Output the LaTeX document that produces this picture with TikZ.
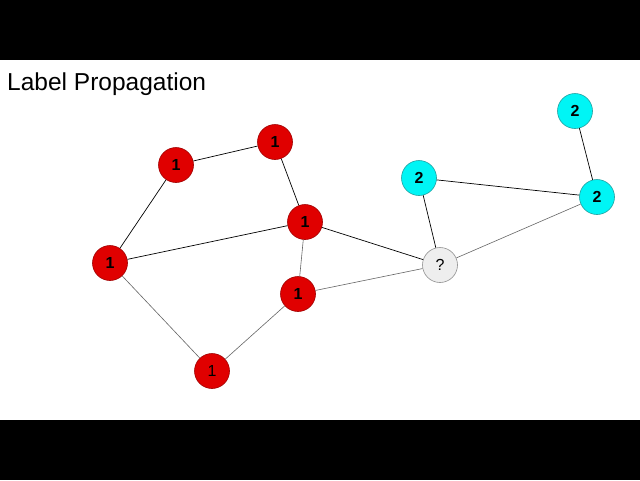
\documentclass[tikz,border=0pt]{standalone}
\usepackage{fontspec}
\setmainfont{Liberation Sans}
\definecolor{nodered}{HTML}{E00000}
\definecolor{redborder}{HTML}{A00000}
\definecolor{nodecyan}{HTML}{00F5F5}
\definecolor{cyanborder}{HTML}{20A0A0}
\definecolor{nodegray}{HTML}{EEEEEE}
\definecolor{grayborder}{HTML}{909090}
\begin{document}
\begin{tikzpicture}[x=1pt,y=-1pt,
  redn/.style={circle,minimum size=35pt,inner sep=0pt,fill=nodered,draw=redborder,line width=0.6pt,font=\fontsize{16}{16}\selectfont\bfseries},
  cyann/.style={circle,minimum size=35pt,inner sep=0pt,fill=nodecyan,draw=cyanborder,line width=0.6pt,font=\fontsize{16}{16}\selectfont\bfseries},
  grayn/.style={circle,minimum size=35pt,inner sep=0pt,fill=nodegray,draw=grayborder,line width=0.6pt,font=\fontsize{16}{16}\selectfont},
  edge/.style={draw=black,line width=0.7pt},
  ledge/.style={draw=black!60,line width=0.6pt}]
\useasboundingbox (0,0) rectangle (640,480);
\fill[white] (0,0) rectangle (640,480);
\fill[black] (0,0) rectangle (640,60);
\fill[black] (0,420) rectangle (640,480);
\node[anchor=base west,inner sep=0pt,font=\fontsize{24.5}{24.5}\selectfont] (title) at (7,90) {Label Propagation};
\node[redn] (A) at (176,165) {1};
\node[redn] (B) at (275,142) {1};
\node[redn] (C) at (305,222) {1};
\node[redn] (D) at (110,263) {1};
\node[redn] (E) at (298,294) {1};
\node[redn,font=\fontsize{16}{16}\selectfont] (F) at (212,371) {1};
\node[grayn] (Q) at (440,265) {?};
\node[cyann] (G) at (419,178) {2};
\node[cyann] (H) at (575,111) {2};
\node[cyann] (I) at (597,197) {2};
\path[edge] (A) -- (B);
\path[edge] (B) -- (C);
\path[edge] (A) -- (D);
\path[edge] (D) -- (C);
\path[edge] (C) -- (Q);
\path[ledge] (C) -- (E);
\path[ledge] (E) -- (Q);
\path[ledge] (D) -- (F);
\path[ledge] (F) -- (E);
\path[edge] (G) -- (Q);
\path[edge] (G) -- (I);
\path[edge] (H) -- (I);
\path[ledge] (I) -- (Q);
\end{tikzpicture}
\end{document}
